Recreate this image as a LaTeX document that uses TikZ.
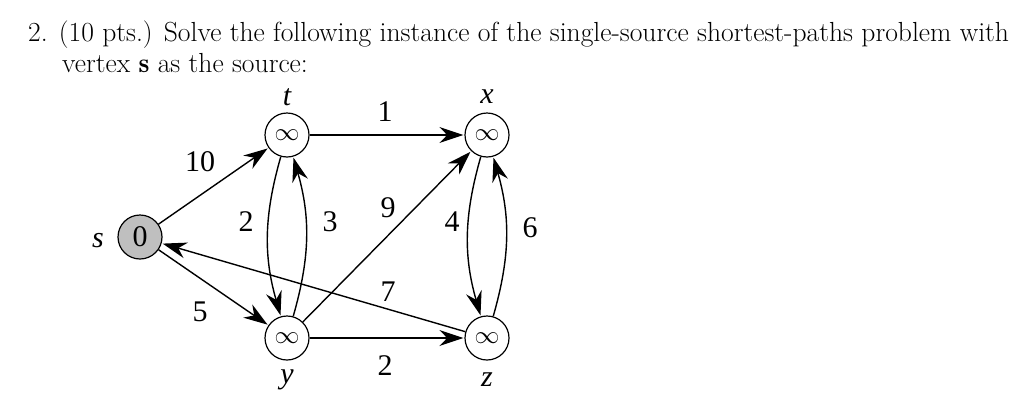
\documentclass[tikz,border=0pt]{standalone}
\usepackage{fontspec}
\newfontfamily\gfont{Liberation Serif}
\usetikzlibrary{arrows.meta}
\begin{document}
\begin{tikzpicture}[x=1pt,y=-1pt,
  vert/.style={circle,draw,line width=1.2pt,minimum size=44pt,inner sep=0pt,font=\gfont\fontsize{30}{30}\selectfont},
  edge/.style={-{Stealth[length=24pt,width=16pt]},line width=1.4pt,shorten >=1pt},
  elab/.style={font=\gfont\fontsize{30}{30}\selectfont},
  vlab/.style={font=\gfont\itshape\fontsize{30}{30}\selectfont}]
\useasboundingbox (0,0) rectangle (1024,418);
\node[anchor=base west,inner sep=0pt,font=\fontsize{27.6}{33}\selectfont] (l1) at (28,41) {2. (10 pts.) Solve the following instance of the single-source shortest-paths problem with};
\node[anchor=base west,inner sep=0pt,font=\fontsize{27.6}{33}\selectfont] (l2) at (62,72) {vertex $\mathbf{s}$ as the source:};
\node[vert,fill=black!25] (s) at (140,237) {0};
\node[vert] (t) at (287,135) {$\infty$};
\node[vert] (x) at (487,135) {$\infty$};
\node[vert] (y) at (287,338) {$\infty$};
\node[vert] (z) at (487,338) {$\infty$};
\node[vlab] (ls) at (98,241) {s};
\node[vlab] (lt) at (287,97) {t};
\node[vlab] (lx) at (487,97) {x};
\node[vlab] (ly) at (287,380) {y};
\node[vlab] (lz) at (487,380) {z};
\draw[edge] (s) -- (t);
\draw[edge] (s) -- (y);
\draw[edge] (t) -- (x);
\draw[edge] (t) to[bend right=16] (y);
\draw[edge] (y) to[bend right=16] (t);
\draw[edge] (y) -- (x);
\draw[edge] (x) to[bend right=16] (z);
\draw[edge] (z) to[bend right=16] (x);
\draw[edge] (y) -- (z);
\draw[edge] (z) -- (s);
\node[elab] (e1) at (385,112) {1};
\node[elab] (e10) at (200,162) {10};
\node[elab] (e9) at (388,208) {9};
\node[elab] (e2a) at (246,222) {2};
\node[elab] (e3) at (330,222) {3};
\node[elab] (e4) at (452,222) {4};
\node[elab] (e6) at (530,228) {6};
\node[elab] (e7) at (388,292) {7};
\node[elab] (e5) at (200,312) {5};
\node[elab] (e2b) at (385,366) {2};
\end{tikzpicture}
\end{document}
